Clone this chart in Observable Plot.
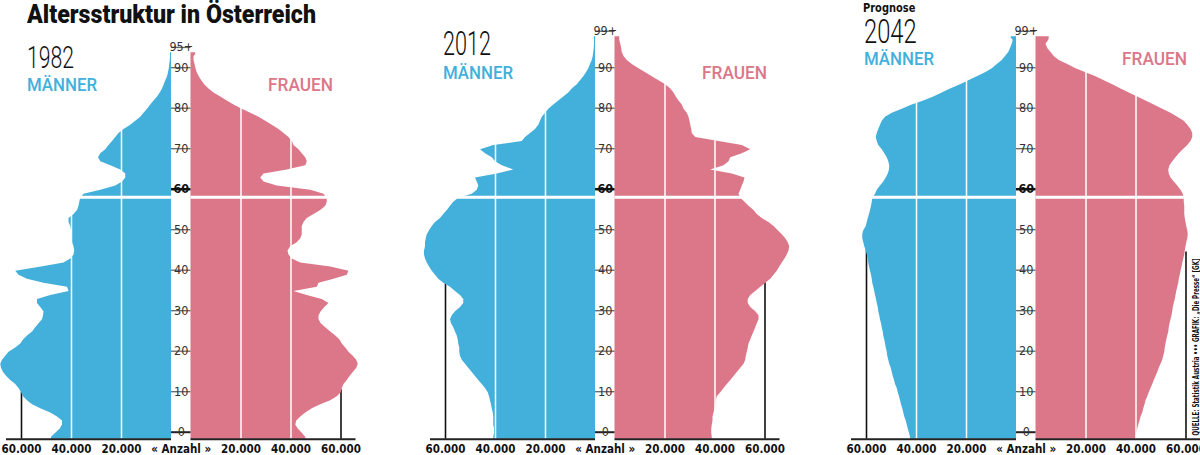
<!DOCTYPE html>
<html><head><meta charset="utf-8">
<script src="https://cdn.jsdelivr.net/npm/d3@7"></script>
<script src="https://cdn.jsdelivr.net/npm/@observablehq/plot@0.6"></script>
<style>
html,body{margin:0;padding:0;background:#fff;overflow:hidden}
#wrap{position:relative;width:1200px;height:455px;overflow:hidden;background:#fff}
#wrap svg{position:absolute;top:0}
.lbl{position:absolute;white-space:nowrap;line-height:0.8;transform-origin:0 0}
</style></head><body><div id="wrap"></div>
<script>
// ---- data (thousands of persons, by single year of age) ----
const years = ["1982", "2012", "2042"];
const topAges = [95, 99, 99];
const topLabels = ["95+", "99+", "99+"];
const ageTicks = [10, 20, 30, 40, 50, 70, 80, 90];
const xTicks = [20000, 40000, 60000];
// heights (age) up to which the black 60.000 reference line is drawn
const blackLineMen = [11.6, 38.9, 47.2];
const blackLineWomen = [12.2, 38.6, 46.2];

const men1982 = [48.0,46.3,44.5,43.6,43.6,45.6,48.3,52.3,55.6,57.6,
 59.2,60,61,62.3,64.3,65.9,67.2,68,68.3,67.6,
 66.3,65,62.3,60.3,59.2,57.6,55.6,54.3,53,51.6,
 51.2,51,52.3,53.6,53.6,48.3,41,41.6,51,57.6,
 61,62.3,52,43,40.3,39,38.7,39,39.6,40,
 40,40,40.3,41,41,39,37.6,37,36.7,36.3,
 35,28.3,22.3,19.6,18.3,18.3,20.3,24.3,28.3,29.2,
 28.3,26.3,25,23.6,22.3,21,19,16.3,14.3,12.3,
 11,9.6,8.3,7,5.6,4.5,3.6,2.9,2.3,1.6,
 1.2,0.9,0.7,0.5,0.4,0.4];
const women1982 = [45.9,44.5,42.9,41.9,42.3,43.9,45.9,48.5,51.9,55.9,
 58.5,60.1,60.5,61.2,62.5,63.6,64.9,66.3,66.9,66.3,
 64.9,63.2,61.9,60.5,59.6,57.9,55.9,53.9,52.1,51.2,
 51.2,52.1,53.5,55.2,52.5,46.5,41.2,50.5,51.2,57.2,
 62.5,63.2,55.9,43.9,40.5,39.2,38.8,39.9,42.5,43.9,
 44.5,44.5,44.5,45.2,46.5,49.2,51.9,53.9,54.5,54.5,
 53.2,47.9,34.5,29.2,27.9,29.2,38.5,45.9,46.5,45.9,
 44.5,43.2,41.2,40.5,39.2,37.2,35.2,32.5,29.9,27.2,
 23.9,20.5,17.2,14.5,11.9,9.2,7.2,5.5,4.3,3.3,
 2.5,2,1.6,1.2,1.2,1.9];
const men2012 = [40.7,40.4,40.4,40.7,40.7,40.7,40.9,41.3,41.6,42,
 42.4,42.9,44,45.3,46.7,48,49.3,50.7,52,53.3,
 54,54.3,54.3,54.7,54.9,55.3,56,56.7,57.6,58,
 57.3,56,54,52.7,52.7,54,56,58,60.7,62.7,
 64,65.3,66.4,67.3,68,68.4,68.4,68,68,67.7,
 67.3,66.4,65.3,64,62,60.7,59.3,58,56.7,54.7,
 49.3,47.3,46.7,47.3,48,39.3,32.7,37.3,40,41.3,
 44,46,40.7,29.3,28,26,24,22.7,22,21.3,
 20,18.7,16.7,14.7,12.7,10.7,9.3,7.3,6,4.7,
 3.6,2.7,2,1.3,0.9,0.7,0.5,0.4,0.4,0.5];
const women2012 = [38.9,38.7,38.7,38.9,39.2,39.2,39.6,40,40.3,40.5,
 40.9,42.3,43.6,44.9,46.3,47.6,48.9,50.3,51.6,52.3,
 52.5,52.9,53.3,53.6,54.3,54.9,55.6,56.3,56.9,57.6,
 57.6,56.3,54.3,53.3,53.3,54.3,56.3,58.3,60.3,62.3,
 63.6,64.9,65.9,66.9,68,68.9,69.6,69.9,69.3,68.3,
 66.9,65.3,63.6,61.6,58.9,56.9,55.6,53.6,52,50.3,
 49.6,50.3,50.9,51.6,52,46.9,38.3,43.6,45.6,46.3,
 50.9,54.3,50.9,41.6,32.3,30.9,30.7,30.3,30,29.6,
 28.9,27.6,26.9,25.6,24.5,23.6,22.3,20.3,17.6,14.9,
 12.3,9.6,6.9,4.9,3.6,2.9,2.7,2.3,1.9,1.9];
const men2042 = [42.4,42.8,43.3,43.7,44.1,44.7,45.1,45.5,46,46.4,
 46.8,47.3,47.7,48.4,48.8,49.3,49.7,50.1,50.7,51.1,
 51.5,51.7,52.1,52.4,52.7,53.1,53.3,53.7,54,54.4,
 54.7,55.1,55.3,55.7,56,56.4,56.7,57.1,57.5,57.7,
 58,58.4,58.8,59.1,59.3,59.7,60.1,60.7,61.1,61.5,
 61.5,61.1,60.1,59.7,59.3,58.8,58.4,58,57.7,57.5,
 56.4,55.7,54.4,53.1,52.1,51.3,50.8,50.7,51.1,51.7,
 52.7,53.7,55.1,55.7,56.1,55.7,55.1,54.4,53.7,52.4,
 49.7,45.7,41.7,37.1,33.1,29.7,26.4,22.4,19.1,15.7,
 12.4,9.7,7.7,5.7,4.4,3.1,2.4,1.7,1.3,2.1];
const women2042 = [40,40.3,40.7,41.1,41.6,42,42.7,43.1,43.6,44,
 44.7,45.3,46,46.7,47.3,48,48.7,49.3,50,50.7,
 51.1,51.5,51.7,52,52.3,52.7,53.1,53.3,53.6,54,
 54.4,54.7,54.9,55.3,55.7,56,56.3,56.7,57.1,57.3,
 57.7,58,58.4,58.7,59.1,59.5,59.7,60,60.3,60.7,
 60.9,60.7,60.3,60,59.7,59.5,59.5,59.5,59.3,59.3,
 58.9,58,56.7,55.3,54,53.3,53.1,53.6,54.7,56,
 57.3,58.9,60.7,62,62.7,62.7,62,60.7,59.3,56.7,
 54,50.7,47.3,44,40.7,37.3,34,30.7,27.3,24,
 20,16,12.7,9.3,7.3,6,4.7,4,5.1,5.3];

const menSeries = [men1982, men2012, men2042];
const womenSeries = [women1982, women2012, women2042];

// ---- style ----
const BLUE = "#42b0db", PINK = "#db7789";
const NARROW = '"Liberation Sans Narrow","Arial Narrow","DejaVu Sans Condensed",sans-serif';
const fmt = d3.formatLocale({decimal: ",", thousands: ".", grouping: [3], currency: ["", "€"]}).format(",");
const maleZero = [170.7, 595, 1016];
const GAP = 19.5, HALF = 150, BASE = 438.7, PXYR = 4.05;
const H = 455;

function points(vals, top) {
  const pts = [{a: 0, v: vals[0] * 1000}];
  vals.forEach((v, i) => { if (i < top) pts.push({a: i + 0.5, v: v * 1000}); });
  pts.push({a: top, v: vals[top] * 1000}, {a: top + 0.4, v: vals[top] * 1000});
  return pts;
}

const wrap = document.getElementById("wrap");
const yScale = {domain: [0, 100], range: [BASE, BASE - 100 * PXYR], axis: null};
const xAxisOpts = {ticks: xTicks, tickFormat: fmt, tickSize: 0, tickPadding: 6, fontSize: 11.5, fontWeight: "bold", fill: "#111", fontFamily: NARROW, label: null};

years.forEach((yr, i) => {
  const top = topAges[i];
  const mW = 170;
  const men = Plot.plot({
    width: mW, height: H,
    marginLeft: mW - HALF - 15, marginRight: 0, marginTop: BASE - 100 * PXYR, marginBottom: H - BASE,
    x: {domain: [0, 60000], range: [mW, mW - HALF], axis: null, label: null},
    y: {...yScale, label: null},
    style: {background: "transparent", overflow: "visible", fontFamily: NARROW},
    marks: [
      Plot.ruleX([60000], {y1: 0, y2: blackLineMen[i], stroke: "#111", strokeWidth: 1.6}),
      Plot.areaX(points(menSeries[i], top), {x: "v", y: "a", fill: BLUE, curve: "linear"}),
      Plot.ruleX([20000, 40000], {y1: 0, y2: top, stroke: "white", strokeWidth: 1.5}),
      Plot.ruleY([60], {stroke: "white", strokeWidth: 3, dy: 1}),
      Plot.ruleY([0], {stroke: "#222", strokeWidth: 2}),
      Plot.axisX(xAxisOpts)
    ]
  });
  men.style.left = (maleZero[i] - mW) + "px";
  wrap.appendChild(men);

  const fW = 200;
  const axisCommon = {anchor: "left", tickSize: GAP, tickPadding: -GAP / 2, textAnchor: "middle", dy: -7, fontSize: 12.5, fontFamily: NARROW, label: null};
  const women = Plot.plot({
    width: fW, height: H,
    marginLeft: GAP, marginRight: fW - GAP - HALF - 15, marginTop: BASE - 100 * PXYR, marginBottom: H - BASE,
    x: {domain: [0, 60000], range: [GAP, GAP + HALF], axis: null, label: null},
    y: {...yScale, label: null},
    style: {background: "transparent", overflow: "visible", fontFamily: NARROW},
    marks: [
      Plot.ruleX([60000], {y1: 0, y2: blackLineWomen[i], stroke: "#111", strokeWidth: 1.6}),
      Plot.areaX(points(womenSeries[i], top), {x: "v", y: "a", fill: PINK, curve: "linear"}),
      Plot.ruleX([20000, 40000], {y1: 0, y2: top, stroke: "white", strokeWidth: 1.5}),
      Plot.ruleY([60], {stroke: "white", strokeWidth: 3, dy: 1}),
      Plot.ruleY([0], {stroke: "#222", strokeWidth: 2}),
      Plot.axisX(xAxisOpts),
      Plot.axisY({...axisCommon, ticks: [...ageTicks, top], tickFormat: d => d === top ? topLabels[i] : String(d), stroke: "#666", strokeWidth: 1.3, fill: "#333"}),
      Plot.axisY({...axisCommon, ticks: [60], tickFormat: d => String(d), stroke: "#111", strokeWidth: 2.5, fill: "#111", fontWeight: "bold"}),
      Plot.axisY({...axisCommon, ticks: [0], tickFormat: d => String(d), stroke: "#222", strokeWidth: 2, fill: "#333"}),
      Plot.text(["« Anzahl »"], {text: d => d, frameAnchor: "bottom-left", dx: -GAP / 2, dy: 6, lineAnchor: "top", textAnchor: "middle", fontSize: 11.5, fontWeight: "bold", fill: "#111", fontFamily: NARROW})
    ]
  });
  women.style.left = maleZero[i] + "px";
  wrap.appendChild(women);
});

// ---- text labels ----
const LH = 0.8;
function addLabel(txt, o) {
  const el = document.createElement("div");
  el.className = "lbl";
  el.textContent = txt;
  const fs = o.capH / 0.716;
  el.style.fontFamily = o.family || NARROW;
  el.style.fontWeight = o.weight || 400;
  el.style.fontSize = fs + "px";
  el.style.color = o.color || "#111";
  el.style.left = o.x + "px";
  el.style.top = (o.capTop - (LH / 2 - 0.3695) * fs) + "px";
  wrap.appendChild(el);
  const w = el.getBoundingClientRect().width;
  el.style.transform = `scaleX(${o.width / w})`;
  return el;
}
addLabel("Altersstruktur in Österreich", {x: 27, capTop: 5, capH: 18.3, width: 289, weight: 900, family: "Roboto"});
addLabel("1982", {x: 27, capTop: 47, capH: 22, width: 47, weight: 300, family: "Roboto"});
addLabel("2012", {x: 442.7, capTop: 32.3, capH: 23.7, width: 48, weight: 300, family: "Roboto"});
addLabel("Prognose", {x: 863.3, capTop: 4.7, capH: 8.6, width: 52.4, weight: 700});
addLabel("2042", {x: 864, capTop: 19, capH: 24.3, width: 52.7, weight: 300, family: "Roboto"});
const sexPos = [[27, 268, 79, 13], [443, 701.7, 65.7, 13.6], [864, 1121.7, 52.7, 13.3]];
sexPos.forEach(([mx, fx, ct, ch]) => {
  addLabel("MÄNNER", {x: mx, capTop: ct, capH: ch, width: 70, color: BLUE, weight: 500, family: "Roboto"});
  addLabel("FRAUEN", {x: fx, capTop: ct, capH: ch, width: 65, color: PINK, weight: 500, family: "Roboto"});
});
// vertical source line
(function () {
  const el = document.createElement("div");
  el.className = "lbl";
  el.textContent = "QUELLE: Statistik Austria ••• GRAFIK: „Die Presse“ [GK]";
  el.style.fontFamily = NARROW; el.style.fontWeight = 700; el.style.fontSize = "8px"; el.style.color = "#111";
  el.style.lineHeight = "1";
  el.style.transformOrigin = "50% 50%";
  wrap.appendChild(el);
  const r = el.getBoundingClientRect();
  el.style.left = (1196.5 - r.width / 2) + "px";
  el.style.top = (346.5 - r.height / 2) + "px";
  el.style.transform = `rotate(-90deg) scaleX(${177 / r.width})`;
})();
</script></body></html>
